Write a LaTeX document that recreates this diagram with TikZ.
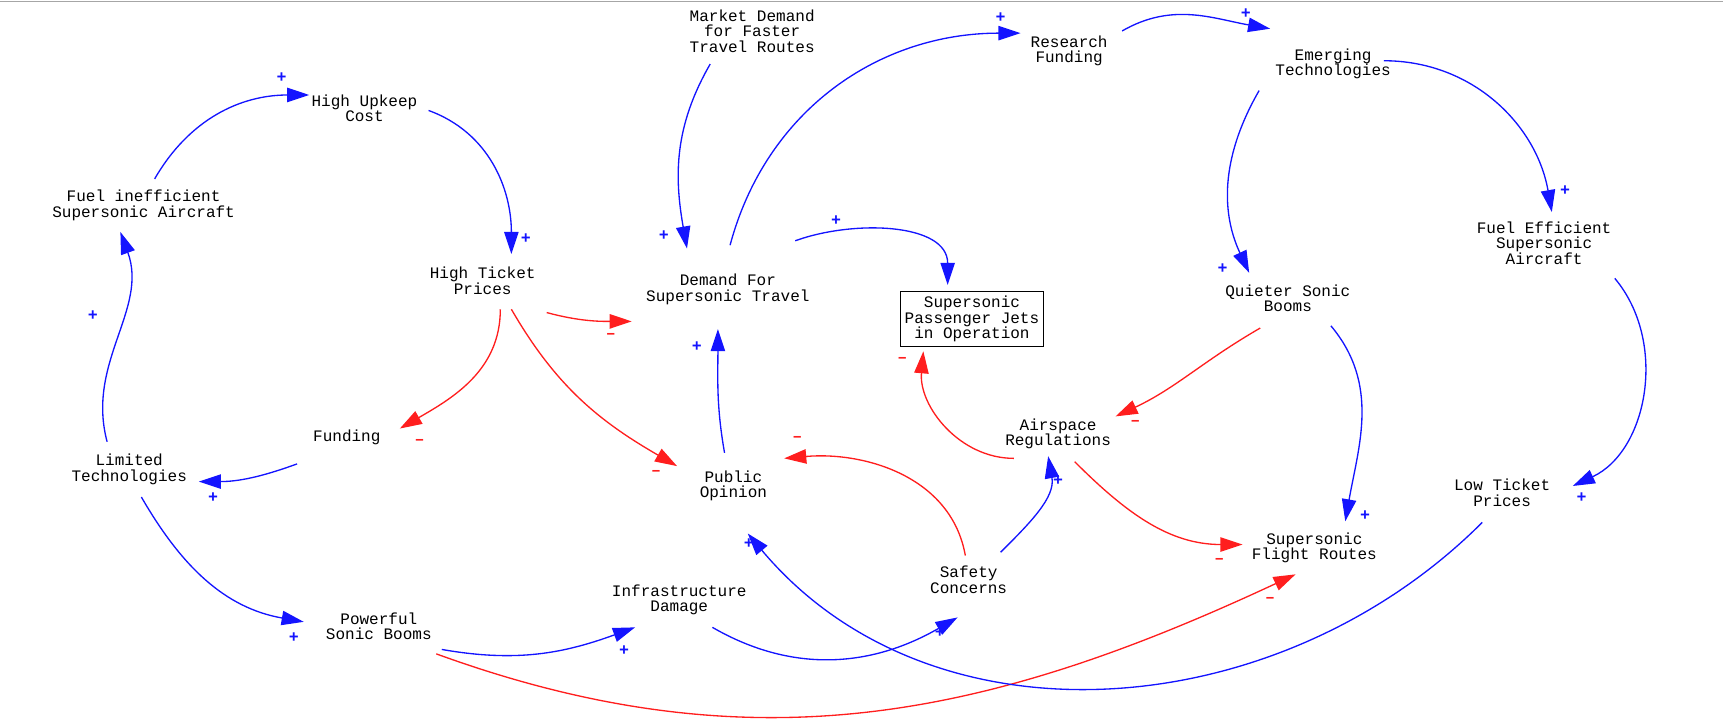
\documentclass[tikz,border=0pt]{standalone}
\usepackage{fontspec}
\setmainfont{Liberation Mono}
\usetikzlibrary{arrows.meta}
\definecolor{pb}{RGB}{20,20,255}
\definecolor{pr}{RGB}{255,30,30}
\begin{document}
\begin{tikzpicture}[x=1pt,y=-1pt,
  v/.style={align=center,font=\fontsize{14.5}{14}\selectfont,inner sep=3pt},
  plink/.style={draw=pb,line width=1.2pt,-{Triangle[length=20pt,width=13pt]},fill=none},
  nlink/.style={draw=pr,line width=1.2pt,-{Triangle[length=20pt,width=13pt]},fill=none},
  pl/.style={text=pb,font=\fontsize{15}{15}\selectfont\bfseries,inner sep=0pt},
  mi/.style={text=pr,font=\fontsize{15}{15}\selectfont\bfseries,inner sep=0pt}]
\useasboundingbox (0,0) rectangle (1560,656);
\draw[gray!70,line width=0.8pt] (0,1) coordinate (tl) -- (1560,1) coordinate (tr);
\node[v] (mk) at (681,28) {Market Demand\\for Faster\\Travel Routes};
\node[v] (rf) at (968,46) {Research\\Funding};
\node[v] (et) at (1207,58) {Emerging\\Technologies};
\node[v] (hu) at (330,98) {High Upkeep\\Cost};
\node[v] (fi) at (130,186) {Fuel inefficient\\Supersonic Aircraft};
\node[v] (ht) at (437,254) {High Ticket\\Prices};
\node[v] (dm) at (659,262) {Demand For\\Supersonic Travel};
\node[v,draw,line width=0.8pt,inner sep=4pt] (sj) at (880,289) {Supersonic\\Passenger Jets\\in Operation};
\node[v] (qs) at (1166,270) {Quieter Sonic\\Booms};
\node[v] (fe) at (1398,220) {Fuel Efficient\\Supersonic\\Aircraft};
\node[v] (fu) at (314,396) {Funding};
\node[v] (lt) at (117,425) {Limited\\Technologies};
\node[v] (ar) at (958,393) {Airspace\\Regulations};
\node[v] (po) at (664,440) {Public\\Opinion};
\node[v] (lo) at (1360,446) {Low Ticket\\Prices};
\node[v] (fr) at (1190,496) {Supersonic\\Flight Routes};
\node[v] (sc) at (877,525) {Safety\\Concerns};
\node[v] (id) at (615,543) {Infrastructure\\Damage};
\node[v] (ps) at (343,567) {Powerful\\Sonic Booms};

\draw[plink] ([shift={(10,-24)}]fi.center) to[out=60,in=180] ([shift={(-50,-12)}]hu.center);
\draw[plink] ([shift={(58,2)}]hu.center) to[out=-20,in=90] ([shift={(26,-24)}]ht.center);
\draw[nlink] ([shift={(58,29)}]ht.center) to[out=-15,in=180] ([shift={(-87,29)}]dm.center);
\draw[nlink] ([shift={(16,26)}]ht.center) to[out=-90,in=30] ([shift={(48,-8)}]fu.center);
\draw[nlink] ([shift={(26,26)}]ht.center) to[out=-60,in=150] ([shift={(-51,-18)}]po.center);
\draw[plink] ([shift={(-45,24)}]fu.center) to[out=200,in=0] ([shift={(63,11)}]lt.center);
\draw[plink] ([shift={(-20,-25)}]lt.center) to[out=105,in=-70] ([shift={(-21,24)}]fi.center);
\draw[plink] ([shift={(11,25)}]lt.center) to[out=-60,in=170] ([shift={(-68,-4)}]ps.center);
\draw[plink] ([shift={(57,21)}]ps.center) to[out=-10,in=200] ([shift={(-40,25)}]id.center);
\draw[nlink] ([shift={(52,25)}]ps.center) to[out=-20,in=205] ([shift={(-17,24)}]fr.center);
\draw[plink] ([shift={(30,25)}]id.center) to[out=-30,in=210] ([shift={(-10,34)}]sc.center);
\draw[nlink] ([shift={(-3,-22)}]sc.center) to[out=100,in=5] ([shift={(46,-25)}]po.center);
\draw[plink] ([shift={(29,-25)}]sc.center) to[out=45,in=-80] ([shift={(-9,20)}]ar.center);
\draw[plink] ([shift={(-8,-30)}]po.center) to[out=100,in=-90] ([shift={(-9,36)}]dm.center);
\draw[plink] ([shift={(-38,30)}]mk.center) to[out=-120,in=100] ([shift={(-37,-37)}]dm.center);
\draw[plink] ([shift={(2,-40)}]dm.center) to[out=75,in=180] ([shift={(-44,-16)}]rf.center);
\draw[plink] ([shift={(61,-44)}]dm.center) to[out=20,in=90] ([shift={(-22,-31)}]sj.center);
\draw[plink] ([shift={(48,-18)}]rf.center) to[out=30,in=170] ([shift={(-57,-32)}]et.center);
\draw[plink] ([shift={(-67,24)}]et.center) to[out=-120,in=115] ([shift={(-35,-23)}]qs.center);
\draw[plink] ([shift={(46,-3)}]et.center) to[out=0,in=100] ([shift={(7,-28)}]fe.center);
\draw[plink] ([shift={(64,32)}]fe.center) to[out=-50,in=25] ([shift={(64,-6)}]lo.center);
\draw[nlink] ([shift={(-25,27)}]qs.center) to[out=210,in=25] ([shift={(52,-16)}]ar.center);
\draw[plink] ([shift={(39,25)}]qs.center) to[out=-50,in=80] ([shift={(28,-24)}]fr.center);
\draw[nlink] ([shift={(15,25)}]ar.center) to[out=-45,in=180] ([shift={(-65,-3)}]fr.center);
\draw[nlink] ([shift={(-40,22)}]ar.center) to[out=180,in=-95] ([shift={(-44,29)}]sj.center);
\draw[plink] ([shift={(-18,27)}]lo.center) to[out=-135,in=-50] ([shift={(13,43)}]po.center);

\node[pl] (l1) at (255,70) {+};
\node[pl] (l2) at (476,216) {+};
\node[mi] (l3) at (553,304) {–};
\node[mi] (l4) at (380,400) {–};
\node[mi] (l5) at (594,428) {–};
\node[pl] (l6) at (193,451) {+};
\node[pl] (l7) at (84,286) {+};
\node[pl] (l8) at (266,577) {+};
\node[pl] (l9) at (565,589) {+};
\node[mi] (l10) at (1150,543) {–};
\node[pl] (l11) at (851,573) {+};
\node[mi] (l12) at (722,397) {–};
\node[pl] (l13) at (958,435) {+};
\node[pl] (l14) at (631,314) {+};
\node[pl] (l15) at (601,213) {+};
\node[pl] (l16) at (906,16) {+};
\node[pl] (l17) at (757,200) {+};
\node[pl] (l18) at (1128,12) {+};
\node[pl] (l19) at (1107,243) {+};
\node[pl] (l20) at (1417,173) {+};
\node[pl] (l21) at (1432,451) {+};
\node[mi] (l22) at (1028,383) {–};
\node[pl] (l23) at (1236,467) {+};
\node[mi] (l24) at (1104,508) {–};
\node[mi] (l25) at (817,326) {–};
\node[pl] (l26) at (678,492) {+};
\end{tikzpicture}
\end{document}
